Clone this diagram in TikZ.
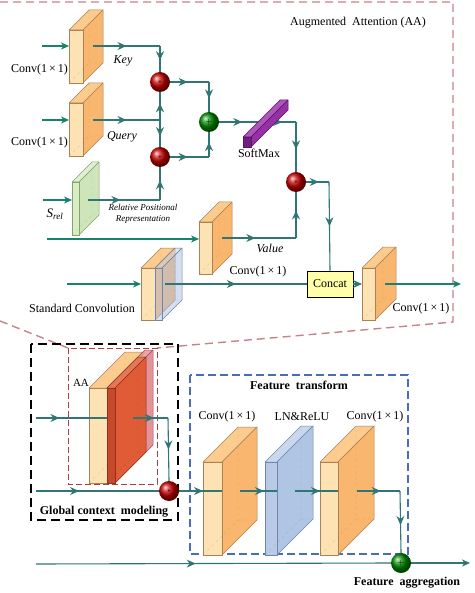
\documentclass[tikz,border=0pt]{standalone}
\usepackage{fontspec}
\setmainfont{Liberation Serif}
\usetikzlibrary{arrows.meta,decorations.markings}
\definecolor{flowc}{RGB}{47,118,116}
\definecolor{inc}{RGB}{22,132,108}
\definecolor{orF}{RGB}{253,226,180}
\definecolor{orS}{RGB}{249,182,110}
\definecolor{orT}{RGB}{251,204,142}
\definecolor{orE}{RGB}{170,130,85}
\definecolor{blF}{RGB}{184,202,230}
\definecolor{blS}{RGB}{176,196,228}
\definecolor{blT}{RGB}{202,216,238}
\definecolor{blE}{RGB}{110,135,175}
\definecolor{grF}{RGB}{218,236,198}
\definecolor{grS}{RGB}{206,229,186}
\definecolor{grT}{RGB}{226,240,210}
\definecolor{grE}{RGB}{130,165,110}
\definecolor{puF}{RGB}{115,30,130}
\definecolor{puS}{RGB}{150,50,165}
\definecolor{puT}{RGB}{175,85,190}
\definecolor{puE}{RGB}{90,20,100}
\definecolor{rdF}{RGB}{200,72,40}
\definecolor{rdS}{RGB}{224,92,55}
\definecolor{rdT}{RGB}{232,120,85}
\definecolor{rdE}{RGB}{140,50,35}
\definecolor{pkF}{RGB}{215,110,120}
\definecolor{pkS}{RGB}{222,120,130}
\definecolor{pkT}{RGB}{230,145,150}
\definecolor{pkE}{RGB}{170,80,90}
\definecolor{aadash}{RGB}{200,130,138}
\definecolor{smalldash}{RGB}{175,60,70}
\definecolor{bluedash}{RGB}{74,110,175}
\definecolor{concatfill}{RGB}{255,255,170}
\newcommand{\slab}[6]{%
  \filldraw[draw=#6E, line width=0.5pt, fill=#6T, line join=round] (#1,#2) -- ++(#5,-#5) -- ++(#3,0) -- ++(-#5,#5) -- cycle;
  \filldraw[draw=#6E, line width=0.5pt, fill=#6S, line join=round] (#1+#3,#2) -- ++(#5,-#5) -- ++(0,#4) -- ++(-#5,#5) -- cycle;
  \filldraw[draw=#6E, line width=0.5pt, fill=#6F] (#1,#2) rectangle ++(#3,#4);
  \draw[#6E, line width=0.3pt, dashed, opacity=0.45] (#1,#2+#4) -- ++(#5,-#5) -- ++(0,-#4) (#1+#5,#2+#4-#5) -- ++(#3,0);
}
\tikzset{
  flow/.style={draw=flowc, line width=1.1pt},
  inarr/.style={draw=inc, line width=1.1pt, -{Stealth[length=8pt,width=7pt,inset=2.5pt]}},
  endarr/.style={-{Stealth[length=9pt,width=8pt,inset=3pt]}},
  midarr/.style={postaction={decorate, decoration={markings, mark=at position #1 with {\arrow[flowc]{Stealth[length=9pt,width=8pt,inset=3pt]}}}}},
  midarr/.default=0.5,
  redball/.style={circle, minimum size=20pt, inner sep=0pt, shading=ball, ball color=red!78!black, font=\fontsize{6}{6}\selectfont},
  greenball/.style={circle, minimum size=20pt, inner sep=0pt, shading=ball, ball color=green!55!black, font=\fontsize{9}{9}\selectfont},
  lbl/.style={font=\fontsize{12}{14}\selectfont, inner sep=0pt},
  ilbl/.style={font=\fontsize{12}{14}\selectfont\itshape, inner sep=0pt},
  blbl/.style={font=\fontsize{12}{14}\selectfont\bfseries, inner sep=0pt},
}
\begin{document}
\begin{tikzpicture}[x=1pt,y=-1pt]
\useasboundingbox (0,0) rectangle (474,593);
\fill[white] (0,0) rectangle (474,593);

% ---------- dashed frames ----------
\draw[aadash, line width=1.4pt, dash pattern=on 8pt off 5pt] (0,2) -- (453,2) -- (453,322) -- (157,348);
\draw[aadash, line width=1.4pt, dash pattern=on 8pt off 5pt] (0,321) -- (68,348);
\draw[smalldash, line width=0.8pt, dash pattern=on 6pt off 3pt] (68,348) rectangle (157,484);
\draw[black, line width=1.8pt, dash pattern=on 9pt off 5pt] (31,344) rectangle (178,520);
\draw[bluedash, line width=1.1pt, dash pattern=on 8pt off 4pt] (190,375) rectangle (408,554);

\node[lbl] (aatitle) at (358,23) {Augmented\ \ Attention (AA)};

% ---------- top section: nodes ----------
\node[redball] (m1) at (160,82) {$\ast$};
\node[redball] (m2) at (160,157) {$\ast$};
\node[greenball] (a1) at (209,122) {$+$};
\node[redball] (m3) at (296,182) {$\ast$};
\node[draw=black, line width=0.8pt, fill=concatfill, minimum width=46pt, minimum height=26pt, inner sep=0pt, lbl] (concat) at (330,284) {Concat};

\coordinate (kS) at (42,46);  \coordinate (kE) at (69,46);
\coordinate (qS) at (42,120); \coordinate (qE) at (69,120);
\coordinate (rS) at (43,200); \coordinate (rE) at (72,200);
\coordinate (vS) at (47,239); \coordinate (vE) at (199,239);
\coordinate (sS) at (67,284); \coordinate (sE) at (141,284);
\coordinate (kO) at (93,46);  \coordinate (kC) at (160,46);
\coordinate (qO) at (93,120); \coordinate (qC) at (160,120);
\coordinate (rO) at (88,200); \coordinate (rC) at (160,200);
\coordinate (m1C) at (209,82); \coordinate (m2C) at (209,157);
\coordinate (a1C) at (296,122);
\coordinate (m3C) at (329,182);
\coordinate (vO) at (222,238); \coordinate (vC) at (296,238);
\coordinate (sO) at (165,284);
\coordinate (cI) at (362,284); \coordinate (cO) at (385,284); \coordinate (cE) at (461,284);

% connectors behind the softmax bar
\draw[flow, midarr=0.3, midarr=0.82] (a1.east) -- (a1C);

% blocks
\slab{69}{30}{14}{53}{20}{or}
\slab{69}{103}{14}{53}{20}{or}
\slab{72}{182}{7}{53}{20}{gr}
\slab{199}{222}{13}{52}{20}{or}
\slab{141}{268}{14}{52}{20}{or}
\begin{scope}[fill opacity=0.55]
\slab{155}{268}{7}{52}{20}{bl}
\end{scope}
\slab{362}{268}{13}{52}{21}{or}
\slab{243}{137}{8}{10}{37}{pu}

% input arrows
\draw[inarr] (kS) -- (kE);
\draw[inarr] (qS) -- (qE);
\draw[inarr] (rS) -- (rE);
\draw[inarr] (vS) -- (vE);
\draw[inarr] (sS) -- (sE);

% flows
\draw[flow, midarr=0.5] (kO) -- (kC);
\draw[flow, midarr=0.55] (kC) -- (m1.north);
\draw[flow, midarr=0.5] (qO) -- (qC);
\draw[flow, midarr=0.6] (qC) -- (m1.south);
\draw[flow, midarr=0.6] (qC) -- (m2.north);
\draw[flow, midarr=0.45] (rO) -- (rC);
\draw[flow, midarr=0.6] (rC) -- (m2.south);
\draw[flow, midarr=0.45] (m1.east) -- (m1C);
\draw[flow, midarr=0.55] (m1C) -- (a1.north);
\draw[flow, midarr=0.45] (m2.east) -- (m2C);
\draw[flow, midarr=0.6] (m2C) -- (a1.south);
\draw[flow, midarr=0.55] (a1C) -- (m3.north);
\draw[flow, midarr=0.55] (m3.east) -- (m3C);
\draw[flow, midarr=0.5] (m3C) -- (concat.north);
\draw[flow, midarr=0.45] (vO) -- (vC);
\draw[flow, midarr=0.6] (vC) -- (m3.south);
\draw[flow, midarr=0.5] (sO) -- (concat.west);
\draw[flow, endarr] (concat.east) -- (cI);
\draw[inarr] (cO) -- (cE);

% top labels
\node[lbl, anchor=east] (lk) at (68,70) {Conv(1\,×\,1)};
\node[lbl, anchor=east] (lq) at (68,143) {Conv(1\,×\,1)};
\node[ilbl] (lkey) at (123,61) {Key};
\node[ilbl] (lquery) at (122,137) {Query};
\node[lbl] (lsm) at (259,153) {SoftMax};
\node[font=\fontsize{13}{14}\selectfont\itshape, inner sep=0pt] (lsrel) at (55,214) {S\textsubscript{rel}};
\node[font=\fontsize{9}{11}\selectfont\itshape, inner sep=0pt, align=center] (lrel) at (143,214) {Relative Positional\\Representation};
\node[ilbl] (lval) at (270,248) {Value};
\node[lbl] (lsc1) at (258,272) {Conv(1\,×\,1)};
\node[lbl] (lsc) at (82,308) {Standard Convolution};
\node[lbl] (lco) at (421,309) {Conv(1\,×\,1)};

% ---------- bottom section ----------
\node[redball] (b1) at (169,491) {$\ast$};
\node[greenball] (g2) at (401,563) {$+$};

\coordinate (aaS) at (36,418); \coordinate (aaE) at (107,418);
\coordinate (aaO) at (133,418); \coordinate (aaC) at (168,418);
\coordinate (gS) at (36,491);
\coordinate (bS) at (36,564);
\coordinate (ftC) at (400,491);
\coordinate (fE) at (470,563);

\draw[flow] (b1.east) -- (ftC);

% AA block
\slab{89}{388}{18}{95}{36}{or}
\begin{scope}[fill opacity=0.8]
\slab{107}{388}{8}{95}{38}{pk}
\end{scope}
\slab{107}{388}{8}{95}{31}{rd}

% feature transform blocks
\slab{203}{462}{19}{93}{35}{or}
\slab{265}{462}{12}{93}{36}{bl}
\slab{320}{462}{18}{93}{36}{or}

% bottom flows
\draw[flow, midarr=0.33] (aaS) -- (aaE);
\draw[flow, midarr=0.6] (aaO) -- (aaC);
\draw[flow, midarr=0.5] (aaC) -- (b1.north);
\draw[flow, midarr=0.35] (gS) -- (b1.west);
\draw[flow, endarr] (b1.east) -- (203,491);
\draw[flow] (203,491) -- (222,491);
\draw[flow, endarr] (240,491) -- (264,491);
\draw[flow] (264,491) -- (277,491);
\draw[flow, endarr] (295,491) -- (320,491);
\draw[flow] (320,491) -- (338,491);
\draw[flow, midarr=0.55] (357,491) -- (ftC);
\draw[flow, midarr=0.55] (ftC) -- (g2.north);
\draw[flow, midarr=0.45] (bS) -- (g2.west);
\draw[inarr, draw=flowc] (g2.east) -- (fE);

% bottom labels
\node[font=\fontsize{11}{12}\selectfont, inner sep=0pt] (laa) at (81,383) {AA};
\node[blbl] (lgcm) at (104,512) {Global context\ \ modeling};
\node[blbl] (lft) at (299,385) {Feature\ \ transform};
\node[lbl] (lc1) at (227,417) {Conv(1\,×\,1)};
\node[lbl] (lln) at (302,417) {LN\&ReLU};
\node[lbl] (lc2) at (375,417) {Conv(1\,×\,1)};
\node[blbl] (lfa) at (407,583) {Feature\ \ aggregation};
\end{tikzpicture}
\end{document}
